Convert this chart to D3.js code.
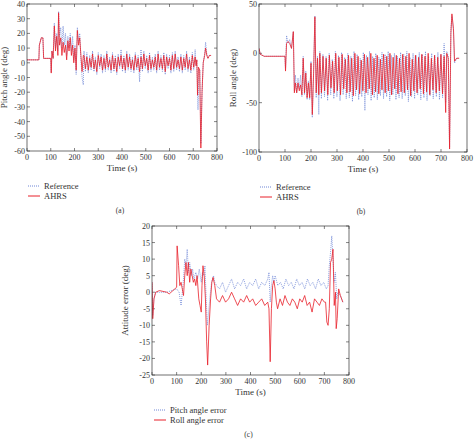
<!DOCTYPE html>
<html><head><meta charset="utf-8">
<script src="https://cdn.jsdelivr.net/npm/d3@7"></script>
<style>body{margin:0;background:#fff}svg{font-family:"Liberation Serif","DejaVu Serif",serif}</style>
</head><body><svg id="c" width="474" height="439"></svg>
<script>
// oscillation runs, spread evenly across a time span
function run(t0, t1, vals) {
  return vals.map((v, i) => [t0 + i * (t1 - t0) / (vals.length - 1), v]);
}

const pitchAhrs = [[0,2],[50,2],[52,12],[60,17],[67,17],[70,3],[100,3],[102,-7],[105,8],[110,3],[115,25],[120,8],[125,18],[130,5],[133,34],[137,12],[142,17],[147,5],[152,14],[157,7],[162,12],[167,2],[172,15],[177,8],[182,17],[187,5],[192,12],[197,0],[202,10],[207,-5],[212,22],[217,12],[222,17],[227,5],[232,-6],[237,5]]
  .concat(run(240, 708, [5,-4,4,-5,3,-3,6,-4,2,-6,5,-2,4,-5,3,-4,6,-3,2,-5,5,-4,3,-6,4,-2,5,-4,3,-5,6,-3,4,-4,2,-5,5,-3,3,-6,4,-4,6,-2,3,-5,5,-4,2,-3,4,-5,6,-3,3,-4,5,-6,4,-2,3,-5,5,-4,6,-3,2,-4,4,-5,3,-3,6,-4,2,-5,5,-3,4]))
  .concat([[712,-2],[715,2],[718,-22],[722,-3],[727,-5],[732,-58],[737,-20],[742,0],[748,5],[752,10],[757,5],[762,3],[768,5],[775,5]]);

const pitchRef = [[0,2],[50,2],[52,12],[60,17],[67,17],[70,3],[100,3],[102,-6],[105,8],[110,3],[115,27],[120,10],[125,20],[130,8],[133,35],[137,18],[142,24],[147,10],[152,25],[157,12],[162,20],[167,5],[172,18],[177,10],[182,20],[187,8],[192,18],[197,2],[202,12],[207,-8],[212,24],[217,14],[222,20],[227,2],[232,-10],[237,-15]]
  .concat(run(240, 708, [8,-6,7,-7,5,-5,8,-6,4,-8,7,-4,6,-7,5,-6,8,-5,4,-7,7,-6,5,-8,6,-4,9,-6,5,-7,8,-5,6,-6,4,-7,7,-5,5,-13,9,-6,8,-4,5,-7,7,-6,4,-5,6,-7,8,-5,5,-6,7,-8,6,-4,5,-7,7,-6,8,-5,4,-6,6,-7,5,-5,8,-6,4,-7,7,-5,9]))
  .concat([[712,-2],[715,2],[720,-32],[724,-4],[728,-5],[732,-55],[737,-20],[742,0],[748,6],[752,14],[757,6],[762,3],[768,5],[775,5]]);

const rollAhrs = [[0,5],[5,-1],[20,-3],[90,-3],[100,-3],[102,-18],[106,10],[112,12],[118,10],[125,5],[132,22],[136,-40],[140,-30],[145,-40],[150,-30],[155,-38],[160,-32],[165,-42],[170,-5],[175,-40],[180,-20],[185,-45],[190,-30],[195,-45],[200,-10],[205,-62],[210,-20],[215,37],[220,-40],[225,-5],[230,-42]]
  .concat(run(234, 712, [0,-40,-3,-38,-5,-42,-2,-35,-8,-40,0,-38,-4,-42,-1,-36,-6,-40,-2,-39,-5,-43,0,-37,-3,-41,-7,-38,-1,-40,-4,-36,0,-42,-5,-39,-2,-41,-6,-37,-1,-40,-3,-38,0,-42,-4,-36,-2,-41,-5,-39,-1,-40,-3,-37,0,-43,-6,-38,-2,-40,-4,-36,-1,-41,-3,-39,0,-42,-5,-37,-2,-40,-4,-38,-1,-41,-3]))
  .concat([[718,-60],[722,0],[728,-5],[733,-97],[738,20],[742,40],[748,25],[752,-8],[760,-5],[770,-5]]);

const rollRef = [[0,5],[5,-1],[20,-3],[90,-3],[100,-3],[102,-15],[106,18],[112,10],[118,14],[125,5],[132,22],[136,-38],[140,-22],[145,-40],[150,-25],[155,-36],[160,-22],[165,-44],[170,-3],[175,-42],[180,-18],[185,-47],[190,-28],[195,-47],[200,-8],[205,-65],[210,-18],[215,38],[220,-45],[225,-3],[230,-62]]
  .concat(run(234, 712, [2,-46,-1,-44,-3,-48,0,-42,-6,-46,2,-44,-2,-48,1,-42,-4,-46,0,-45,-3,-49,2,-43,-1,-47,-5,-44,1,-58,-2,-42,2,-48,-3,-45,0,-47,-4,-43,1,-46,-1,-44,2,-48,-2,-42,0,-47,-3,-45,1,-46,-1,-43,2,-49,-4,-44,0,-46,-2,-42,1,-47,-1,-45,2,-48,-3,-43,0,-46,-2,-44,1,-47,-1,-45,10]))
  .concat([[718,-50],[722,2],[728,-3],[733,-95],[738,25],[742,38],[748,22],[752,-10],[760,-5],[770,-5]]);

const rollErr = [[0,3],[3,-8],[8,-2],[15,0],[30,0.5],[60,0],[70,-0.5],[100,1.5],[102,14],[108,8],[113,2],[118,3],[123,1],[128,-1],[133,5],[138,9],[143,5],[148,9],[153,3],[158,7],[163,5],[168,3],[173,4],[178,2],[183,5],[190,-2],[195,-4],[200,-6],[203,2],[207,8],[212,5],[217,-2],[222,-15],[226,-22],[232,-10],[238,-2],[243,3],[248,4.5],[255,2]]
  .concat(run(262, 470, [-2,-3,-1,-3,-2,0,-2,-4,-2,-3,-1,-3,-2,-4,-3,-2,-4,-3]))
  .concat([[475,-5],[480,-21],[485,-5],[490,2],[495,3.5],[500,1],[505,-3]])
  .concat(run(510, 700, [-5,-2,-4,-1,-3,-4,-2,-3,-5,-2,-3,-1,-4,-3,-6,-2,-3,-4,-2,-3]))
  .concat([[705,-3],[710,-9],[715,-10],[720,-5],[725,9],[730,10],[735,13],[740,-4],[745,0],[748,-11],[752,-8],[758,1],[765,-1],[775,-3]]);

const pitchErr = [[0,3],[3,-7],[8,-2],[15,0],[60,0],[100,1],[110,0],[118,-4],[122,-1],[128,4],[133,10],[138,8],[143,13],[148,6],[153,9],[160,5],[165,7],[170,4],[178,6],[185,4],[192,7],[200,3],[205,6],[210,5],[215,8],[220,-2],[225,-10],[230,-6],[236,-1],[242,3],[250,5],[255,3]]
  .concat(run(262, 470, [2,1,3,0,2,4,1,3,2,4,1,3,2,4,1,3,2,4]))
  .concat([[475,6],[480,-3],[485,2],[490,5],[495,3]])
  .concat(run(500, 708, [5,2,3,1,4,2,3,1,4,2,3,1,4,2,3,1,4,2,3,1]))
  .concat([[715,2],[720,8],[725,12],[730,17],[735,10],[740,3],[745,6],[750,-2],[755,0],[765,-1],[775,-3]]);

const RED = "#e8202a", BLUE = "#6f86d6";
const svg = d3.select("#c");

function panel(o) {
  const x = d3.scaleLinear().domain([0, 800]).range([o.l, o.r]);
  const y = d3.scaleLinear().domain(o.yd).range([o.b, o.t]);
  const g = svg.append("g");
  const ax = g.append("g").attr("font-size", 8).attr("fill", "#333");
  const xt = d3.range(0, 801, 100), yt = d3.range(o.yd[0], o.yd[1] + 0.1, o.ys);
  xt.forEach(v => {
    ax.append("line").attr("x1", x(v)).attr("x2", x(v)).attr("y1", o.b).attr("y2", o.b - 3).attr("stroke", "#333").attr("stroke-width", 0.6);
    ax.append("line").attr("x1", x(v)).attr("x2", x(v)).attr("y1", o.t).attr("y2", o.t + 3).attr("stroke", "#333").attr("stroke-width", 0.6);
    ax.append("text").attr("x", x(v)).attr("y", o.b + 9).attr("text-anchor", "middle").text(v);
  });
  yt.forEach(v => {
    ax.append("line").attr("x1", o.l).attr("x2", o.l + 3).attr("y1", y(v)).attr("y2", y(v)).attr("stroke", "#333").attr("stroke-width", 0.6);
    ax.append("line").attr("x1", o.r).attr("x2", o.r - 3).attr("y1", y(v)).attr("y2", y(v)).attr("stroke", "#333").attr("stroke-width", 0.6);
    ax.append("text").attr("x", o.l - 2).attr("y", y(v) + 3).attr("text-anchor", "end").text(v);
  });
  const line = d3.line().x(d => x(d[0])).y(d => y(d[1]));
  const clip = "clip" + o.id;
  g.append("clipPath").attr("id", clip).append("rect").attr("x", o.l).attr("y", o.t).attr("width", o.r - o.l).attr("height", o.b - o.t);
  g.append("path").datum(o.blue).attr("d", line).attr("clip-path", `url(#${clip})`).attr("fill", "none").attr("stroke", BLUE).attr("stroke-width", 0.8).attr("stroke-dasharray", "1,1");
  g.append("path").datum(o.red).attr("d", line).attr("clip-path", `url(#${clip})`).attr("fill", "none").attr("stroke", RED).attr("stroke-width", 0.8);
  g.append("rect").attr("x", o.l).attr("y", o.t).attr("width", o.r - o.l).attr("height", o.b - o.t).attr("fill", "none").attr("stroke", "#333").attr("stroke-width", 0.7);
  g.append("text").attr("x", (o.l + o.r) / 2).attr("y", o.b + 20).attr("text-anchor", "middle").attr("font-size", 9).attr("fill", "#333").text("Time (s)");
  g.append("text").attr("transform", `translate(${o.yl},${(o.t + o.b) / 2}) rotate(-90)`).attr("text-anchor", "middle").attr("font-size", 9).attr("fill", "#333").text(o.ylab);
  const lx = o.lgx, ly = o.b + 35;
  g.append("line").attr("x1", lx).attr("x2", lx + 12).attr("y1", ly).attr("y2", ly).attr("stroke", BLUE).attr("stroke-dasharray", "1,1");
  g.append("text").attr("x", lx + 16).attr("y", ly + 3).attr("font-size", 8.5).attr("fill", "#333").text(o.leg[0]);
  g.append("line").attr("x1", lx).attr("x2", lx + 12).attr("y1", ly + 10).attr("y2", ly + 10).attr("stroke", RED);
  g.append("text").attr("x", lx + 16).attr("y", ly + 13).attr("font-size", 8.5).attr("fill", "#333").text(o.leg[1]);
  g.append("text").attr("x", (o.l + o.r) / 2 - 2).attr("y", o.b + 62).attr("text-anchor", "middle").attr("font-size", 7.5).attr("fill", "#333").text(o.tag);
}

panel({id: "a", l: 27, r: 217, t: 4, b: 151, yd: [-60, 40], ys: 10, yl: 7, ylab: "Pitch angle (deg)",
  red: pitchAhrs, blue: pitchRef, lgx: 28, leg: ["Reference", "AHRS"], tag: "(a)"});
panel({id: "b", l: 259, r: 467, t: 4, b: 152, yd: [-100, 50], ys: 50, yl: 236, ylab: "Roll angle (deg)",
  red: rollAhrs, blue: rollRef, lgx: 260, leg: ["Reference", "AHRS"], tag: "(b)"});
panel({id: "c", l: 152, r: 349, t: 226, b: 375, yd: [-25, 20], ys: 5, yl: 128, ylab: "Attitude error (deg)",
  red: rollErr, blue: pitchErr, lgx: 154, leg: ["Pitch angle error", "Roll angle error"], tag: "(c)"});
</script></body></html>
